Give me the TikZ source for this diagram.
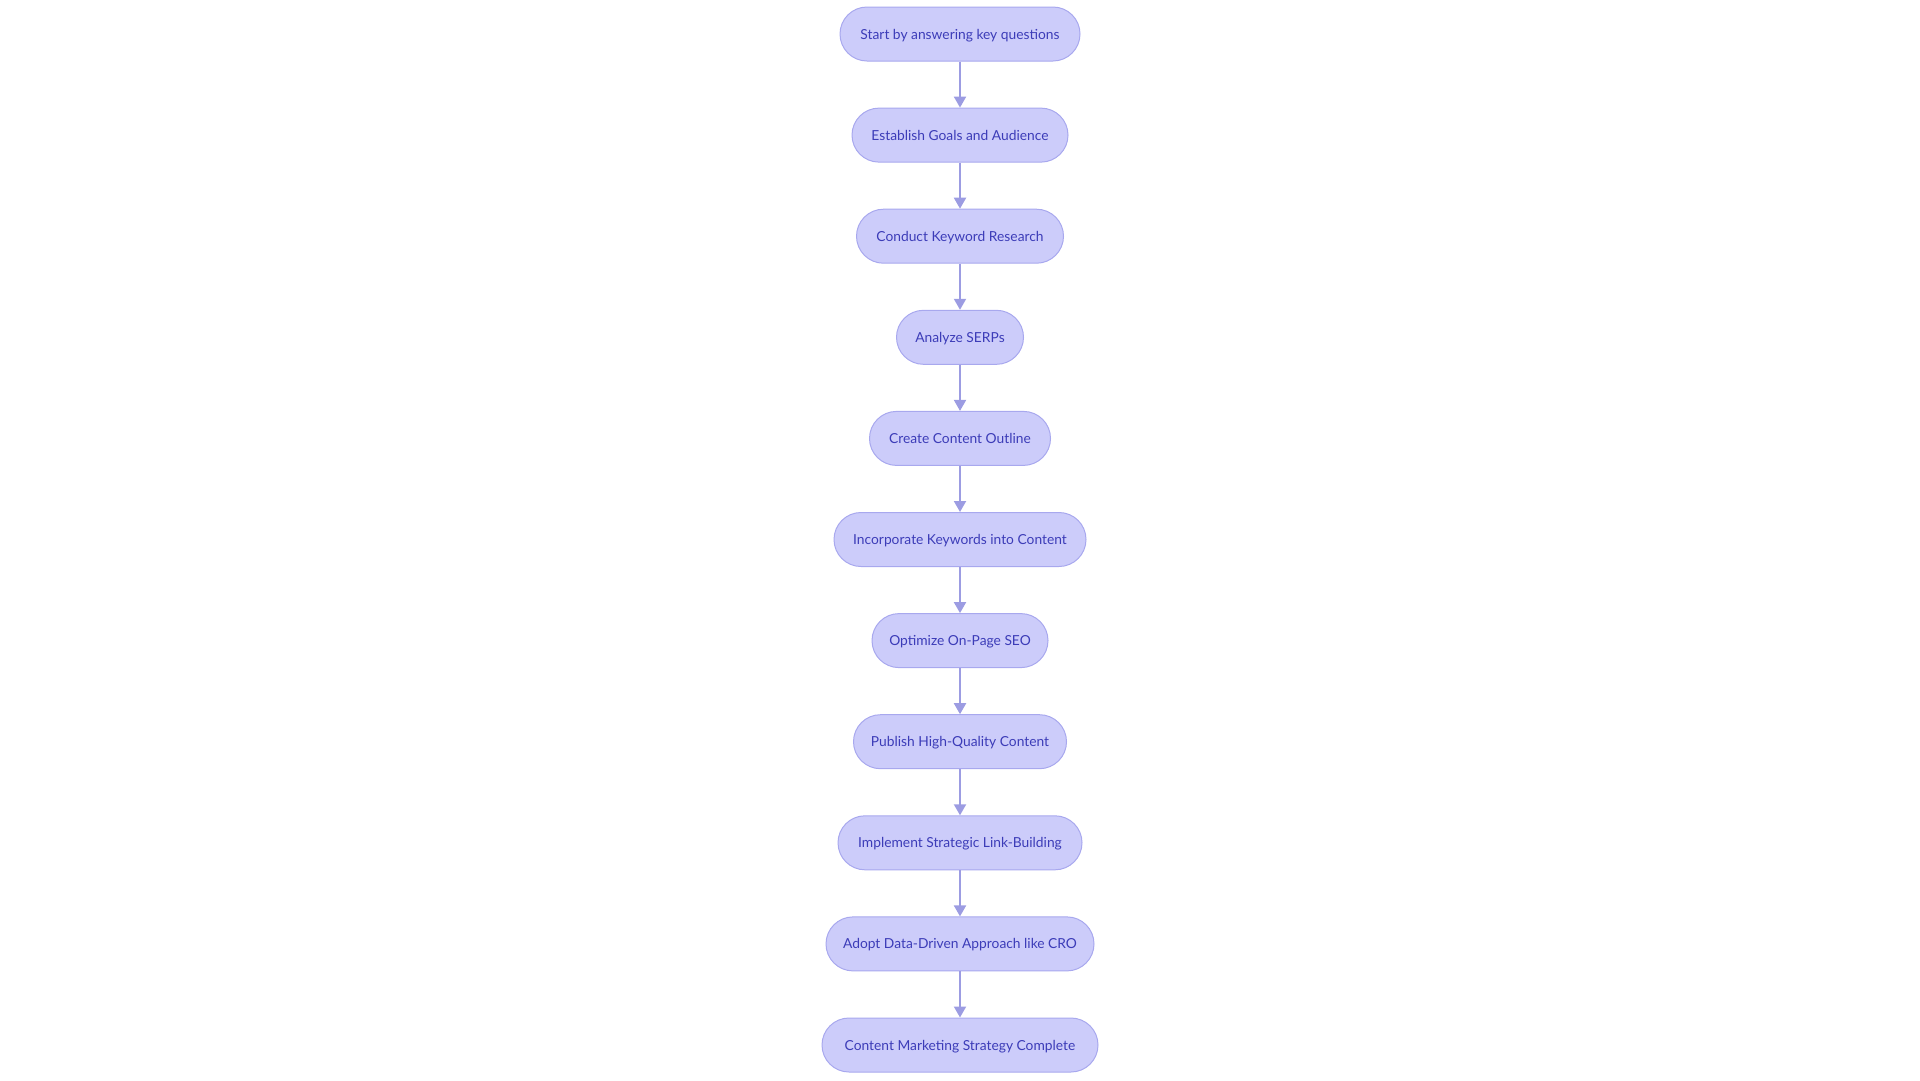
\documentclass[tikz,border=0pt]{standalone}
\usepackage{fontspec}
\setmainfont{Lato}
\usetikzlibrary{arrows.meta}
\definecolor{nodefill}{HTML}{CCCCFA}
\definecolor{nodedraw}{HTML}{A8A8EE}
\definecolor{nodetext}{HTML}{3C3CB8}
\definecolor{linkcol}{HTML}{9C9CE2}
\tikzset{
  stepbox/.style={draw=nodedraw, fill=nodefill, line width=1pt, rounded corners=27pt,
    minimum height=54pt, inner xsep=0pt, text height=12pt, text depth=2pt,
    text=nodetext, font=\fontsize{13.8}{16}\selectfont},
  link/.style={draw=linkcol, line width=2pt, -{Triangle[length=11pt,width=12pt]}}
}
\begin{document}
\begin{tikzpicture}[x=1pt,y=-1pt]
\useasboundingbox (0,0) rectangle (1920,1080);
\node[stepbox, minimum width=240pt] (n1) at (960,34) {Start by answering key questions};
\node[stepbox, minimum width=216pt] (n2) at (960,135.1) {Establish Goals and Audience};
\node[stepbox, minimum width=207pt] (n3) at (960,236.2) {Conduct Keyword Research};
\node[stepbox, minimum width=127pt] (n4) at (960,337.3) {Analyze SERPs};
\node[stepbox, minimum width=181pt] (n5) at (960,438.4) {Create Content Outline};
\node[stepbox, minimum width=252pt] (n6) at (960,539.5) {Incorporate Keywords into Content};
\node[stepbox, minimum width=176pt] (n7) at (960,640.6) {Optimize On-Page SEO};
\node[stepbox, minimum width=213pt] (n8) at (960,741.7) {Publish High-Quality Content};
\node[stepbox, minimum width=244pt] (n9) at (960,842.8) {Implement Strategic Link-Building};
\node[stepbox, minimum width=268pt] (n10) at (960,943.9) {Adopt Data-Driven Approach like CRO};
\node[stepbox, minimum width=276pt] (n11) at (960,1045) {Content Marketing Strategy Complete};
\foreach \a/\b in {n1/n2,n2/n3,n3/n4,n4/n5,n5/n6,n6/n7,n7/n8,n8/n9,n9/n10,n10/n11}
  \draw[link] (\a) -- (\b);
\end{tikzpicture}
\end{document}
